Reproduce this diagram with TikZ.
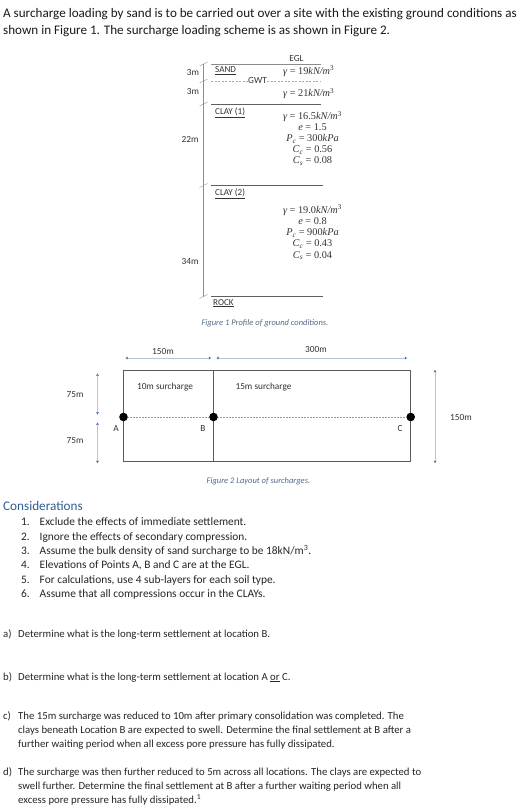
\documentclass[tikz,border=0pt]{standalone}
\usepackage{fontspec}
\usetikzlibrary{calc,arrows.meta}
\setmainfont{Carlito}
\newfontfamily\mathlike{Liberation Serif}
\newcommand{\vv}[1]{{\itshape #1}}
\definecolor{capblue}{RGB}{85,105,135}
\definecolor{headblue}{RGB}{46,94,150}
\definecolor{dimblue}{RGB}{178,198,222}
\definecolor{tipblue}{RGB}{60,100,170}
\definecolor{inkgray}{RGB}{95,95,95}
\tikzset{
 body/.style={anchor=base west,inner sep=0pt,font=\fontsize{10.75pt}{12pt}\selectfont,text=black!85},
 listbody/.style={anchor=base west,inner sep=0pt,font=\fontsize{11.4pt}{13pt}\selectfont,text=black!85},
 bigbody/.style={anchor=base west,inner sep=0pt,font=\fontsize{13.1pt}{15pt}\selectfont,text=black!90},
 small/.style={anchor=base,inner sep=0pt,font=\fontsize{9.3pt}{11pt}\selectfont,text=black!80},
 soil/.style={anchor=base west,inner sep=0pt,font=\fontsize{9.1pt}{11pt}\selectfont,text=black!80},
 prop/.style={anchor=base,inner sep=0pt,font=\mathlike\fontsize{10.3pt}{12pt}\selectfont,text=black!80},
 figcap/.style={anchor=base,inner sep=0pt,font=\itshape\fontsize{8.5pt}{10pt}\selectfont,text=capblue},
 layer/.style={draw=inkgray,line width=0.7pt},
 axisline/.style={draw=black!45,line width=0.6pt},
 tickmark/.style={draw=black!45,line width=0.4pt},
 dimline/.style={draw=dimblue,line width=0.8pt,{Stealth[length=2.4pt,width=2.8pt,color=tipblue]}-{Stealth[length=2.4pt,width=2.8pt,color=tipblue]}},
 bigpt/.style={circle,fill=black,inner sep=0pt,minimum size=8.6pt},
 plan/.style={draw=black!65,line width=0.8pt},
 centerdash/.style={draw=black!40,line width=0.35pt,dash pattern=on 0.8pt off 0.7pt},
}
\begin{document}
\begin{tikzpicture}[x=1pt,y=-1pt]
\useasboundingbox (0,0) rectangle (525,810);
\fill[white] (0,0) rectangle (525,810);
% intro
\node[bigbody] (t1) at (3,18) {A surcharge loading by sand is to be carried out over a site with the existing ground conditions as};
\node[bigbody] (t2) at (3,35) {shown in Figure 1. The surcharge loading scheme is as shown in Figure 2.};
% figure 1 axis
\coordinate (ax0) at (203.5,64);
\coordinate (ax1) at (203.5,81);
\coordinate (ax2) at (203.5,104);
\coordinate (ax3) at (203.5,185.5);
\coordinate (ax4) at (203.5,296.5);
\draw[axisline] (ax0) -- (ax4);
\foreach \cc in {ax0,ax1,ax2,ax3,ax4}{\draw[tickmark] ($(\cc)+(-4,2)$) -- ($(\cc)+(4,-2)$);}
\node[small] (d3a) at (193,76) {3m};
\node[small] (d3b) at (193,95) {3m};
\node[small] (d22) at (190,143) {22m};
\node[small] (d34) at (190,264) {34m};
\coordinate (l0a) at (211,64); \coordinate (l0b) at (321,64);
\coordinate (l1a) at (211,81); \coordinate (l1b) at (321,81);
\coordinate (l2a) at (211,104.5); \coordinate (l2b) at (321,104.5);
\coordinate (l3a) at (211,185.5); \coordinate (l3b) at (323,185.5);
\coordinate (l4a) at (211,296.5); \coordinate (l4b) at (323,296.5);
\draw[layer,draw=black!45,line width=0.9pt] (l0a) -- (l0b);
\draw[draw=black!35,line width=0.4pt,dash pattern=on 2pt off 1.5pt] (l1a) -- (l1b);
\draw[layer] (l2a) -- (l2b);
\draw[layer] (l3a) -- (l3b);
\draw[layer] (l4a) -- (l4b);
\node[small,fill=white,inner xsep=0.4pt,inner ysep=0.8pt] (gwt) at (257.5,84) {GWT};
\node[small] (egl) at (296.5,62) {EGL};
\node[soil] (sand) at (215,73) {\underline{SAND}};
\node[soil] (c1) at (215,115) {\underline{CLAY (1)}};
\node[soil] (c2) at (215,196) {\underline{CLAY (2)}};
\node[soil] (rock) at (213,305) {\underline{ROCK}};
\node[prop] (g0) at (308.7,74.5) {\vv{γ} = 19\vv{kN/m}\textsuperscript{3}};
\node[prop] (g1) at (308.7,97) {\vv{γ} = 21\vv{kN/m}\textsuperscript{3}};
\node[prop] (p1) at (312.5,120) {\vv{γ} = 16.5\vv{kN/m}\textsuperscript{3}};
\node[prop] (p2) at (312.5,131) {\vv{e} = 1.5};
\node[prop] (p3) at (312.5,142) {\vv{P}\textsubscript{\vv{c}} = 300\vv{kPa}};
\node[prop] (p4) at (312.5,153) {\vv{C}\textsubscript{\vv{c}} = 0.56};
\node[prop] (p5) at (312.5,164) {\vv{C}\textsubscript{\vv{s}} = 0.08};
\node[prop] (q1) at (312.5,213.5) {\vv{γ} = 19.0\vv{kN/m}\textsuperscript{3}};
\node[prop] (q2) at (312.5,225) {\vv{e} = 0.8};
\node[prop] (q3) at (312.5,236) {\vv{P}\textsubscript{\vv{c}} = 900\vv{kPa}};
\node[prop] (q4) at (312.5,247) {\vv{C}\textsubscript{\vv{c}} = 0.43};
\node[prop] (q5) at (312.5,258) {\vv{C}\textsubscript{\vv{s}} = 0.04};
\node[figcap] (f1) at (265,325.5) {Figure 1 Profile of ground conditions.};
% figure 2
\node[small] (w150) at (163,354) {150m};
\node[small] (w300) at (316,352) {300m};
\coordinate (da) at (125.5,358); \coordinate (db) at (211,358);
\coordinate (dc) at (216.5,358); \coordinate (dd) at (407,358);
\draw[dimline] (da) -- (db); \draw[dimline] (dc) -- (dd);
\coordinate (v1) at (97.5,373.5); \coordinate (v2) at (97.5,414.5);
\coordinate (v3) at (97.5,422.5); \coordinate (v4) at (97.5,463);
\coordinate (v5) at (435,370); \coordinate (v6) at (435,463);
\draw[dimline] (v1) -- (v2); \draw[dimline] (v3) -- (v4); \draw[dimline] (v5) -- (v6);
\node[small] (h1) at (75,397) {75m};
\node[small] (h2) at (75,443) {75m};
\node[small] (h3) at (461,420) {150m};
\coordinate (r1) at (123.5,370); \coordinate (r3) at (410.7,461.7);
\coordinate (m1) at (213.5,370); \coordinate (m2) at (213.5,461.7);
\draw[plan] (r1) rectangle (r3);
\draw[plan] (m1) -- (m2);
\node[bigpt] (A) at (123.5,417) {};
\node[bigpt] (B) at (213.5,417) {};
\node[bigpt] (C) at (410.7,417) {};
\draw[centerdash] (A) -- (B);
\draw[centerdash] (B) -- (C);
\node[small] (la) at (116,431) {A};
\node[small] (lb) at (203,431) {B};
\node[small] (lc) at (400,431) {C};
\node[small] (s10) at (165,389) {10m surcharge};
\node[small] (s15) at (263.5,389) {15m surcharge};
\node[figcap] (f2) at (258.5,483) {Figure 2 Layout of surcharges.};
% considerations
\node[anchor=base west,inner sep=0pt,font=\fontsize{13.2pt}{15pt}\selectfont,text=headblue] (h) at (3,510) {Considerations};
\foreach \yy/\nn/\ss in {525/1./Exclude the effects of immediate settlement.,
 540/2./Ignore the effects of secondary compression.,
 554/3./{Assume the bulk density of sand surcharge to be 18kN/m\textsuperscript{3}.},
 568.5/4./{Elevations of Points A, B and C are at the EGL.},
 583/5./{For calculations, use 4 sub-layers for each soil type.},
 597.5/6./Assume that all compressions occur in the CLAYs.}{
 \node[listbody] at (21,\yy) {\nn};
 \node[listbody] at (39.5,\yy) {\ss};
}
\node[body] at (3,637) {a)};
\node[body] (a) at (18,637) {Determine what is the long-term settlement at location B.};
\node[body] at (3,680) {b)};
\node[body] (b) at (18,680) {Determine what is the long-term settlement at location A \underline{or} C.};
\node[body] at (3,719) {c)};
\node[body] at (18,719) {The 15m surcharge was reduced to 10m after primary consolidation was completed. The};
\node[body] at (18,733) {clays beneath Location B are expected to swell. Determine the final settlement at B after a};
\node[body] at (18,747) {further waiting period when all excess pore pressure has fully dissipated.};
\node[body] at (3,775) {d)};
\node[body] at (18,775) {The surcharge was then further reduced to 5m across all locations. The clays are expected to};
\node[body] at (18,789) {swell further. Determine the final settlement at B after a further waiting period when all};
\node[body] at (18,803) {excess pore pressure has fully dissipated.\textsuperscript{1}};
\end{tikzpicture}
\end{document}
